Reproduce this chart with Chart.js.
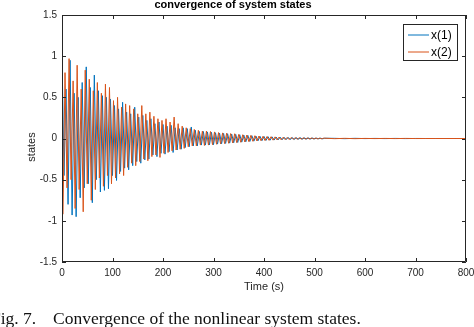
<!DOCTYPE html>
<html><head><meta charset="utf-8">
<script src="https://cdn.jsdelivr.net/npm/chart.js@4.4.0/dist/chart.umd.min.js"></script>
<style>html,body{margin:0;padding:0;background:#fff;}canvas{display:block;}</style>
</head><body>
<canvas id="c" width="474" height="327"></canvas>
<script>
const chartTitle = 'convergence of system states';
const xAxisTitle = 'Time (s)';
const yAxisTitle = 'states';
const captionLead = 'Fig. 7.';
const captionText = 'Convergence of the nonlinear system states.';
const seriesLabels = ['x(1)', 'x(2)'];
const seriesColors = ['#0072BD', '#D95319'];
const xTicks = [0, 100, 200, 300, 400, 500, 600, 700, 800];
const yTicks = [-1.5, -1, -0.5, 0, 0.5, 1, 1.5];

// sampled time grid of the readings (seconds)
const x1Start = 0, x2Start = 2, mainStep = 4;
const tailStart = 540, tailStep = 20;

// x(1) readings, t = 0, 4, 8, ... 520
const x1Main = [
 1.02,-0.45,0.60,-0.80,0.95,-0.93,0.55,-0.95,0.50,-0.72,
 0.68,-0.60,0.87,-0.55,0.62,-0.78,0.77,-0.50,0.58,-0.65,
 0.52,-0.63,0.50,-0.61,0.48,-0.45,0.40,-0.51,0.36,-0.40,
 0.44,-0.36,0.32,-0.38,0.30,-0.33,0.38,-0.28,0.26,-0.30,
 0.28,-0.26,0.22,-0.25,0.24,-0.20,0.18,-0.22,0.20,-0.18,
 0.17,-0.19,0.15,-0.16,0.16,-0.17,0.13,-0.14,0.12,-0.13,
 0.13,-0.11,0.12,-0.10,0.14,-0.09,0.10,-0.09,0.085,-0.08,
 0.085,-0.08,0.08,-0.078,0.075,-0.075,0.07,-0.068,0.066,-0.064,
 0.062,-0.06,0.058,-0.056,0.054,-0.052,0.05,-0.048,0.046,-0.044,
 0.042,-0.04,0.038,-0.036,0.034,-0.032,0.03,-0.029,0.027,-0.026,
 0.025,-0.023,0.022,-0.021,0.02,-0.019,0.018,-0.017,0.016,-0.015,
 0.014,-0.013,0.013,-0.012,0.011,-0.011,0.01,-0.009,0.009,-0.008,
 0.008,-0.007,0.007,-0.006,0.006,-0.005,0.005,-0.004,0.004,-0.004,
 0.003];
// x(2) readings, t = 2, 6, 10, ... 518
const x2Main = [
 -0.92,0.80,-0.60,0.97,-0.50,0.70,-0.85,0.89,-0.62,0.60,
 -0.89,0.83,-0.55,0.72,-0.75,0.58,-0.62,0.68,-0.48,0.55,
 -0.58,0.66,-0.45,0.62,-0.55,0.46,-0.48,0.50,-0.43,0.38,
 -0.45,0.42,-0.35,0.40,-0.30,0.36,-0.33,0.30,-0.28,0.40,
 -0.25,0.30,-0.27,0.32,-0.22,0.27,-0.20,0.24,-0.23,0.22,
 -0.18,0.24,-0.17,0.20,-0.15,0.26,-0.14,0.18,-0.13,0.15,
 -0.12,0.13,-0.10,0.12,-0.09,0.11,-0.09,0.10,-0.08,0.09,
 -0.085,0.09,-0.08,0.085,-0.075,0.08,-0.07,0.072,-0.066,0.068,
 -0.062,0.064,-0.058,0.06,-0.054,0.058,-0.05,0.05,-0.046,0.046,
 -0.042,0.042,-0.038,0.038,-0.034,0.034,-0.03,0.03,-0.027,0.027,
 -0.025,0.024,-0.022,0.022,-0.02,0.02,-0.018,0.018,-0.016,0.016,
 -0.014,0.014,-0.013,0.013,-0.011,0.011,-0.01,0.01,-0.009,0.009,
 -0.008,0.008,-0.007,0.007,-0.006,0.006,-0.005,0.005,-0.004,0.004];
// settled tail readings, t = 540, 560, ... 800
const x1Tail = [0.002,-0.002,0.002,-0.001,0.001,-0.001,0.001,-0.001,0.0005,0,0,0,0,0];
const x2Tail = [-0.002,0.002,-0.002,0.001,-0.001,0.001,-0.001,0.001,-0.0005,0,0,0,0,0];

function toPoints(start, step, vals) { return vals.map((v, i) => ({x: start + i * step, y: v})); }

const FONT = "'Liberation Sans', Arial, sans-serif";
const AX = '#262626';
Chart.defaults.font.family = FONT;

const boxTicks = {
  id: 'boxTicks',
  afterDatasetsDraw(chart) {
    const {ctx, chartArea: a, scales: {x, y}} = chart;
    ctx.save();
    ctx.strokeStyle = AX; ctx.lineWidth = 1;
    ctx.beginPath();
    ctx.rect(Math.round(a.left) + 0.5, Math.round(a.top) + 0.5, Math.round(a.right - a.left) - 1, Math.round(a.bottom - a.top) - 1);
    const L = 4;
    xTicks.forEach(v => {
      const px = Math.round(x.getPixelForValue(v)) + 0.5;
      ctx.moveTo(px, a.bottom); ctx.lineTo(px, a.bottom - L);
      ctx.moveTo(px, a.top); ctx.lineTo(px, a.top + L);
    });
    yTicks.forEach(v => {
      const py = Math.round(y.getPixelForValue(v)) + 0.5;
      ctx.moveTo(a.left, py); ctx.lineTo(a.left + L, py);
      ctx.moveTo(a.right, py); ctx.lineTo(a.right - L, py);
    });
    ctx.stroke();
    // legend box
    const lx = 403.5, ly = 24.5, lw = 54, lh = 36;
    ctx.fillStyle = '#fff';
    ctx.fillRect(lx, ly, lw, lh);
    ctx.strokeStyle = AX;
    ctx.strokeRect(lx, ly, lw, lh);
    chart.data.datasets.forEach((ds, i) => {
      const yy = ly + 10.5 + i * 17;
      ctx.strokeStyle = ds.borderColor; ctx.lineWidth = 1;
      ctx.beginPath(); ctx.moveTo(408, yy); ctx.lineTo(429, yy); ctx.stroke();
      ctx.fillStyle = '#000';
      ctx.font = '12px ' + FONT;
      ctx.textBaseline = 'middle'; ctx.textAlign = 'left';
      ctx.fillText(ds.label, 431, yy + 0.5);
    });
    ctx.restore();
  },
  afterDraw(chart) {
    const {ctx} = chart;
    ctx.save();
    ctx.fillStyle = AX;
    ctx.font = '11px ' + FONT;
    ctx.textAlign = 'center'; ctx.textBaseline = 'middle';
    ctx.translate(32, 147);
    ctx.rotate(-Math.PI / 2);
    ctx.fillText(yAxisTitle, 0, 0);
    ctx.restore();
    ctx.save();
    ctx.fillStyle = '#111';
    ctx.font = "17.5px 'Liberation Serif', 'Times New Roman', serif";
    ctx.textBaseline = 'alphabetic'; ctx.textAlign = 'left';
    ctx.fillText(captionLead, -9, 324);
    ctx.fillText(captionText, 53, 324);
    ctx.restore();
  }
};

new Chart(document.getElementById('c'), {
  type: 'line',
  data: {
    datasets: [
      {label: seriesLabels[0], borderColor: seriesColors[0], backgroundColor: seriesColors[0], order: 2,
       data: toPoints(x1Start, mainStep, x1Main).concat(toPoints(tailStart, tailStep, x1Tail))},
      {label: seriesLabels[1], borderColor: seriesColors[1], backgroundColor: seriesColors[1], order: 1,
       data: toPoints(x2Start, mainStep, x2Main).concat(toPoints(tailStart, tailStep, x2Tail))}
    ]
  },
  plugins: [boxTicks],
  options: {
    responsive: false, animation: false, devicePixelRatio: 1,
    layout: {autoPadding: false, padding: {left: 0, right: 8, top: 0, bottom: 25}},
    elements: {point: {radius: 0}, line: {borderWidth: 1, tension: 0}},
    plugins: {
      legend: {display: false}, tooltip: {enabled: false},
      title: {display: true, text: chartTitle, color: '#000',
        font: {size: 11, weight: 'bold', family: FONT, lineHeight: 1},
        padding: {top: -1, bottom: 5}}
    },
    scales: {
      x: {type: 'linear', min: 0, max: 800,
        afterBuildTicks: s => { s.ticks = xTicks.map(v => ({value: v})); },
        afterFit: s => { s.height = 40; s.paddingLeft = 0; s.paddingRight = 0; },
        grid: {display: false, drawTicks: false}, border: {display: false},
        ticks: {autoSkip: false, maxRotation: 0, color: AX, font: {size: 10}, padding: 5,
          callback: v => String(v)},
        title: {display: true, text: xAxisTitle, color: AX, font: {size: 11}, padding: {top: 0, bottom: 8.4}}
      },
      y: {type: 'linear', min: -1.5, max: 1.5,
        afterBuildTicks: s => { s.ticks = yTicks.map(v => ({value: v})); },
        afterFit: s => { s.width = 62; s.paddingTop = 0; s.paddingBottom = 0; },
        grid: {display: false, drawTicks: false}, border: {display: false},
        ticks: {color: AX, font: {size: 10}, padding: 5, callback: v => String(v)},
        title: {display: false}
      }
    }
  }
});
</script>
</body></html>
